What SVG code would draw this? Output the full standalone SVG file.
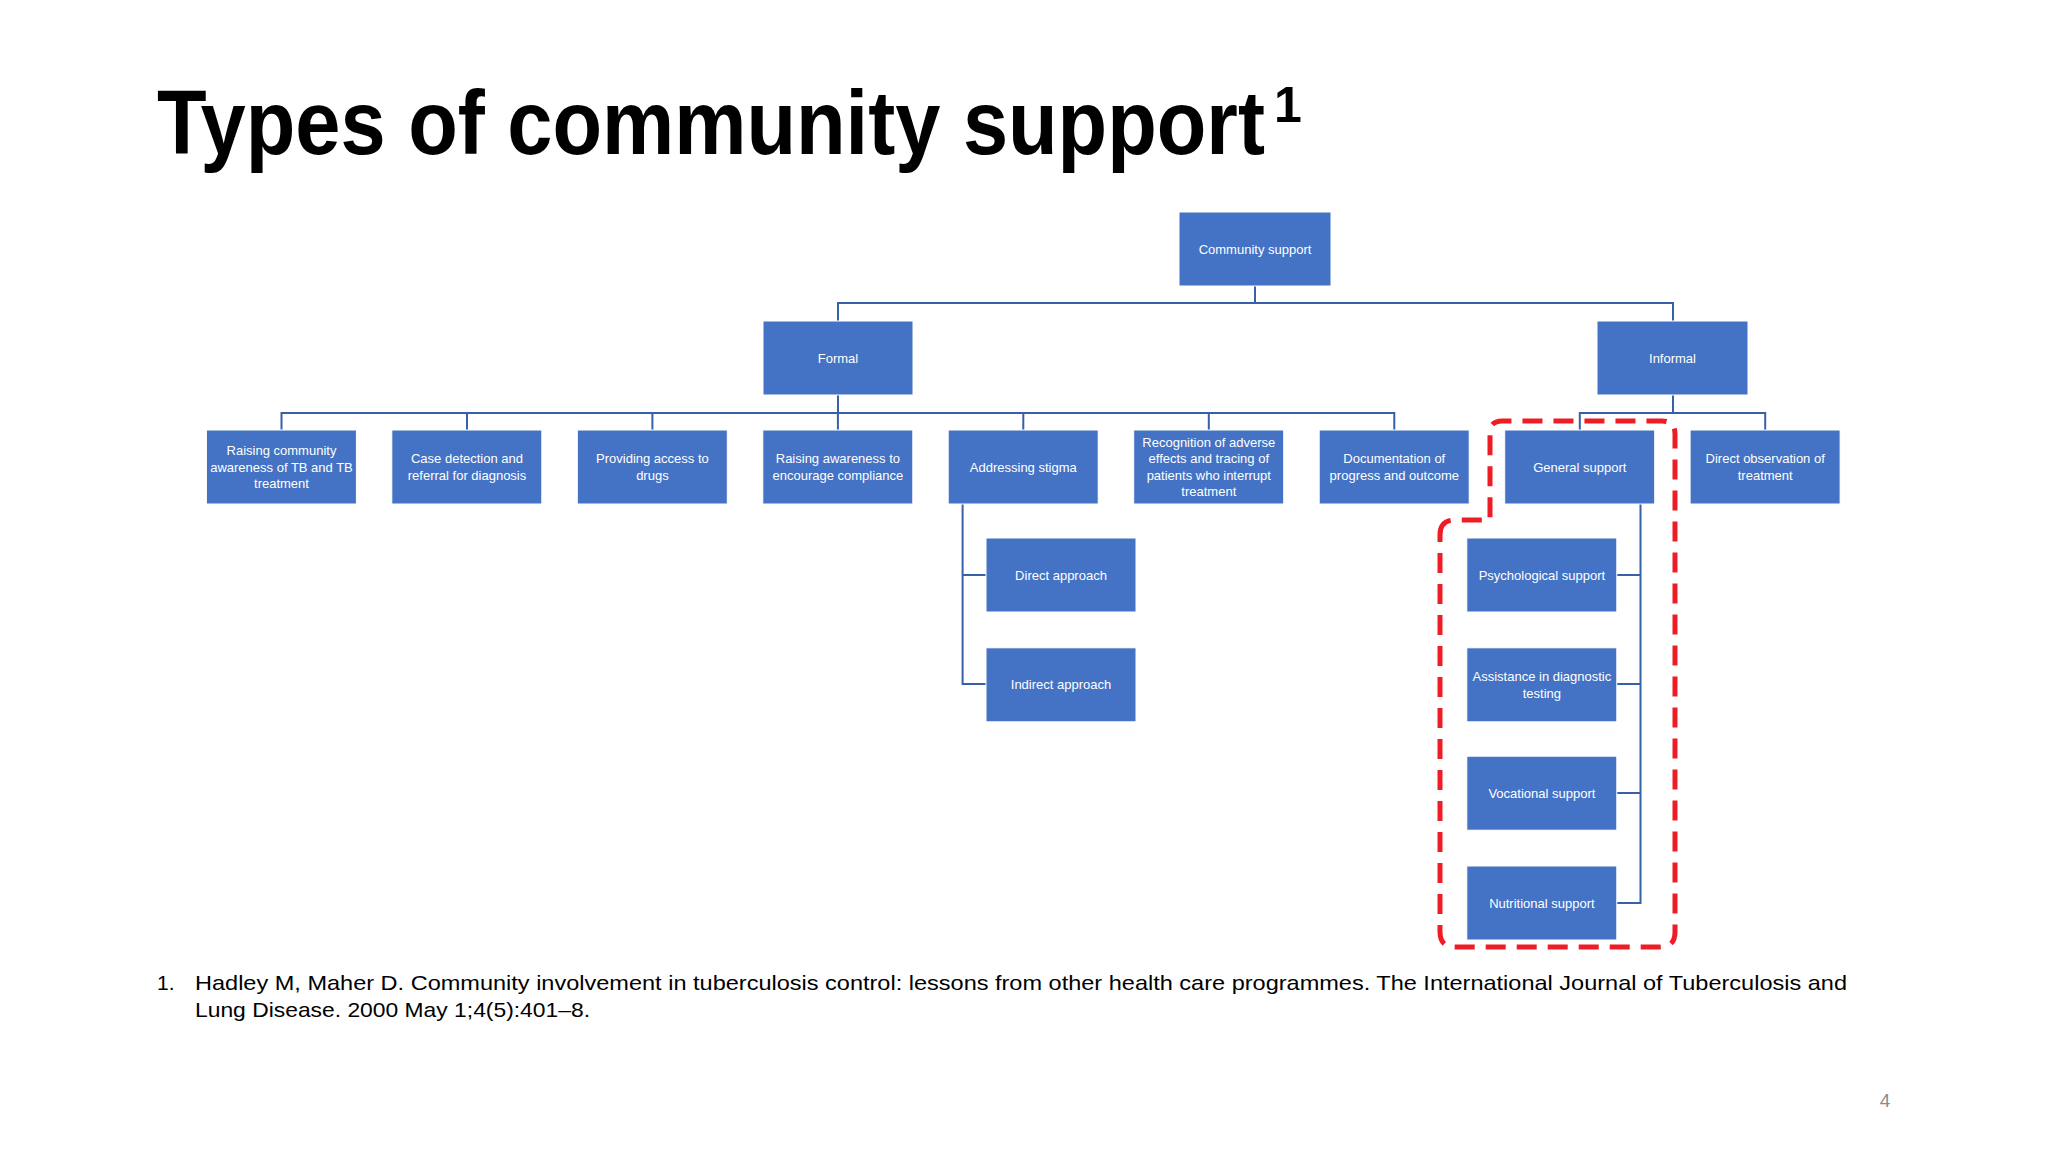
<svg xmlns="http://www.w3.org/2000/svg" width="2048" height="1152" viewBox="0 0 2048 1152">
<style>
.box{fill:#4472C4;stroke:#ffffff;stroke-width:1}
.bt{font-family:"Liberation Sans",Arial,sans-serif;font-size:13px;fill:#ffffff;text-anchor:middle}
.ln{stroke:#3760a8;stroke-width:2;fill:none}
.title{font-family:"Liberation Sans",Arial,sans-serif;font-weight:bold;fill:#000000}
.foot{font-family:"Liberation Sans",Arial,sans-serif;font-size:21px;fill:#000000}
</style>
<rect width="2048" height="1152" fill="#ffffff"/>
<text class="title" x="157" y="154" font-size="90"><tspan textLength="1108" lengthAdjust="spacingAndGlyphs">Types of community support</tspan><tspan x="1274" y="122" font-size="50">1</tspan></text>

<g id="connectors">
<path class="ln" d="M1255 286 V303 M838 321 V303 H1673 V321"/>
<path class="ln" d="M838 394 V413 M281.5 430 V413 H1394.3 V430 M467 413 V430 M652.4 413 V430 M837.9 413 V430 M1023.3 413 V430 M1208.8 413 V430"/>
<path class="ln" d="M1673 394 V413 M1579.8 430 V413 H1765.2 V430"/>
<path class="ln" d="M962.6 503 V684 H986 M962.6 575 H986"/>
<path class="ln" d="M1640.5 503 V903 H1617 M1640.5 575 H1617 M1640.5 684 H1617 M1640.5 793 H1617"/>
</g>

<g id="n-community"><rect class="box" x="1179" y="212" width="152" height="74"/><text class="bt" x="1255" y="253.6">Community support</text></g>
<g id="n-formal"><rect class="box" x="763" y="321" width="150" height="74"/><text class="bt" x="838" y="362.6">Formal</text></g>
<g id="n-informal"><rect class="box" x="1597" y="321" width="151" height="74"/><text class="bt" x="1672.5" y="362.6">Informal</text></g>

<g id="n-raising-community"><rect class="box" x="206.4" y="430" width="150" height="74"/><text class="bt" x="281.5"><tspan x="281.5" y="455.3">Raising community</tspan><tspan x="281.5" y="471.6">awareness of TB and TB</tspan><tspan x="281.5" y="487.9">treatment</tspan></text></g>
<g id="n-case-detection"><rect class="box" x="391.8" y="430" width="150" height="74"/><text class="bt"><tspan x="467" y="463.4">Case detection and</tspan><tspan x="467" y="479.7">referral for diagnosis</tspan></text></g>
<g id="n-access-drugs"><rect class="box" x="577.3" y="430" width="150" height="74"/><text class="bt"><tspan x="652.4" y="463.4">Providing access to</tspan><tspan x="652.4" y="479.7">drugs</tspan></text></g>
<g id="n-raising-compliance"><rect class="box" x="762.8" y="430" width="150" height="74"/><text class="bt"><tspan x="837.9" y="463.4">Raising awareness to</tspan><tspan x="837.9" y="479.7">encourage compliance</tspan></text></g>
<g id="n-stigma"><rect class="box" x="948.2" y="430" width="150" height="74"/><text class="bt" x="1023.3" y="471.6">Addressing stigma</text></g>
<g id="n-recognition"><rect class="box" x="1133.7" y="430" width="150" height="74"/><text class="bt"><tspan x="1208.8" y="447.1">Recognition of adverse</tspan><tspan x="1208.8" y="463.4">effects and tracing of</tspan><tspan x="1208.8" y="479.7">patients who interrupt</tspan><tspan x="1208.8" y="496">treatment</tspan></text></g>
<g id="n-documentation"><rect class="box" x="1319.2" y="430" width="150" height="74"/><text class="bt"><tspan x="1394.3" y="463.4">Documentation of</tspan><tspan x="1394.3" y="479.7">progress and outcome</tspan></text></g>
<g id="n-general"><rect class="box" x="1504.7" y="430" width="150" height="74"/><text class="bt" x="1579.8" y="471.6">General support</text></g>
<g id="n-direct-observation"><rect class="box" x="1690.1" y="430" width="150" height="74"/><text class="bt"><tspan x="1765.2" y="463.4">Direct observation of</tspan><tspan x="1765.2" y="479.7">treatment</tspan></text></g>

<g id="n-direct-approach"><rect class="box" x="986" y="538" width="150" height="74"/><text class="bt" x="1061" y="579.6">Direct approach</text></g>
<g id="n-indirect-approach"><rect class="box" x="986" y="647.8" width="150" height="74"/><text class="bt" x="1061" y="689.4">Indirect approach</text></g>

<g id="n-psychological"><rect class="box" x="1466.8" y="538" width="150" height="74"/><text class="bt" x="1541.9" y="579.6">Psychological support</text></g>
<g id="n-assistance"><rect class="box" x="1466.8" y="647.8" width="150" height="74"/><text class="bt"><tspan x="1541.9" y="681.2">Assistance in diagnostic</tspan><tspan x="1541.9" y="697.5">testing</tspan></text></g>
<g id="n-vocational"><rect class="box" x="1466.8" y="756.2" width="150" height="74"/><text class="bt" x="1541.9" y="797.8">Vocational support</text></g>
<g id="n-nutritional"><rect class="box" x="1466.8" y="866" width="150" height="74"/><text class="bt" x="1541.9" y="907.6">Nutritional support</text></g>

<path id="highlight" d="M1440 535 Q1440 520 1455 520 L1490 520 L1490 433 Q1490 421 1502 421 L1662 421 Q1675 421 1675 434 L1675 932 Q1675 947 1660 947 L1455 947 Q1440 947 1440 932 Z" fill="none" stroke="#ee1c25" stroke-width="5" stroke-dasharray="20 11"/>

<text class="foot" x="157" y="990">1.</text>
<text class="foot" x="195" y="990" textLength="1652" lengthAdjust="spacingAndGlyphs">Hadley M, Maher D. Community involvement in tuberculosis control: lessons from other health care programmes. The International Journal of Tuberculosis and</text>
<text class="foot" x="195" y="1017" textLength="395" lengthAdjust="spacingAndGlyphs">Lung Disease. 2000 May 1;4(5):401–8.</text>
<text x="1885" y="1107" font-family="Liberation Sans,Arial,sans-serif" font-size="19" fill="#8c8c8c" text-anchor="middle">4</text>
</svg>
